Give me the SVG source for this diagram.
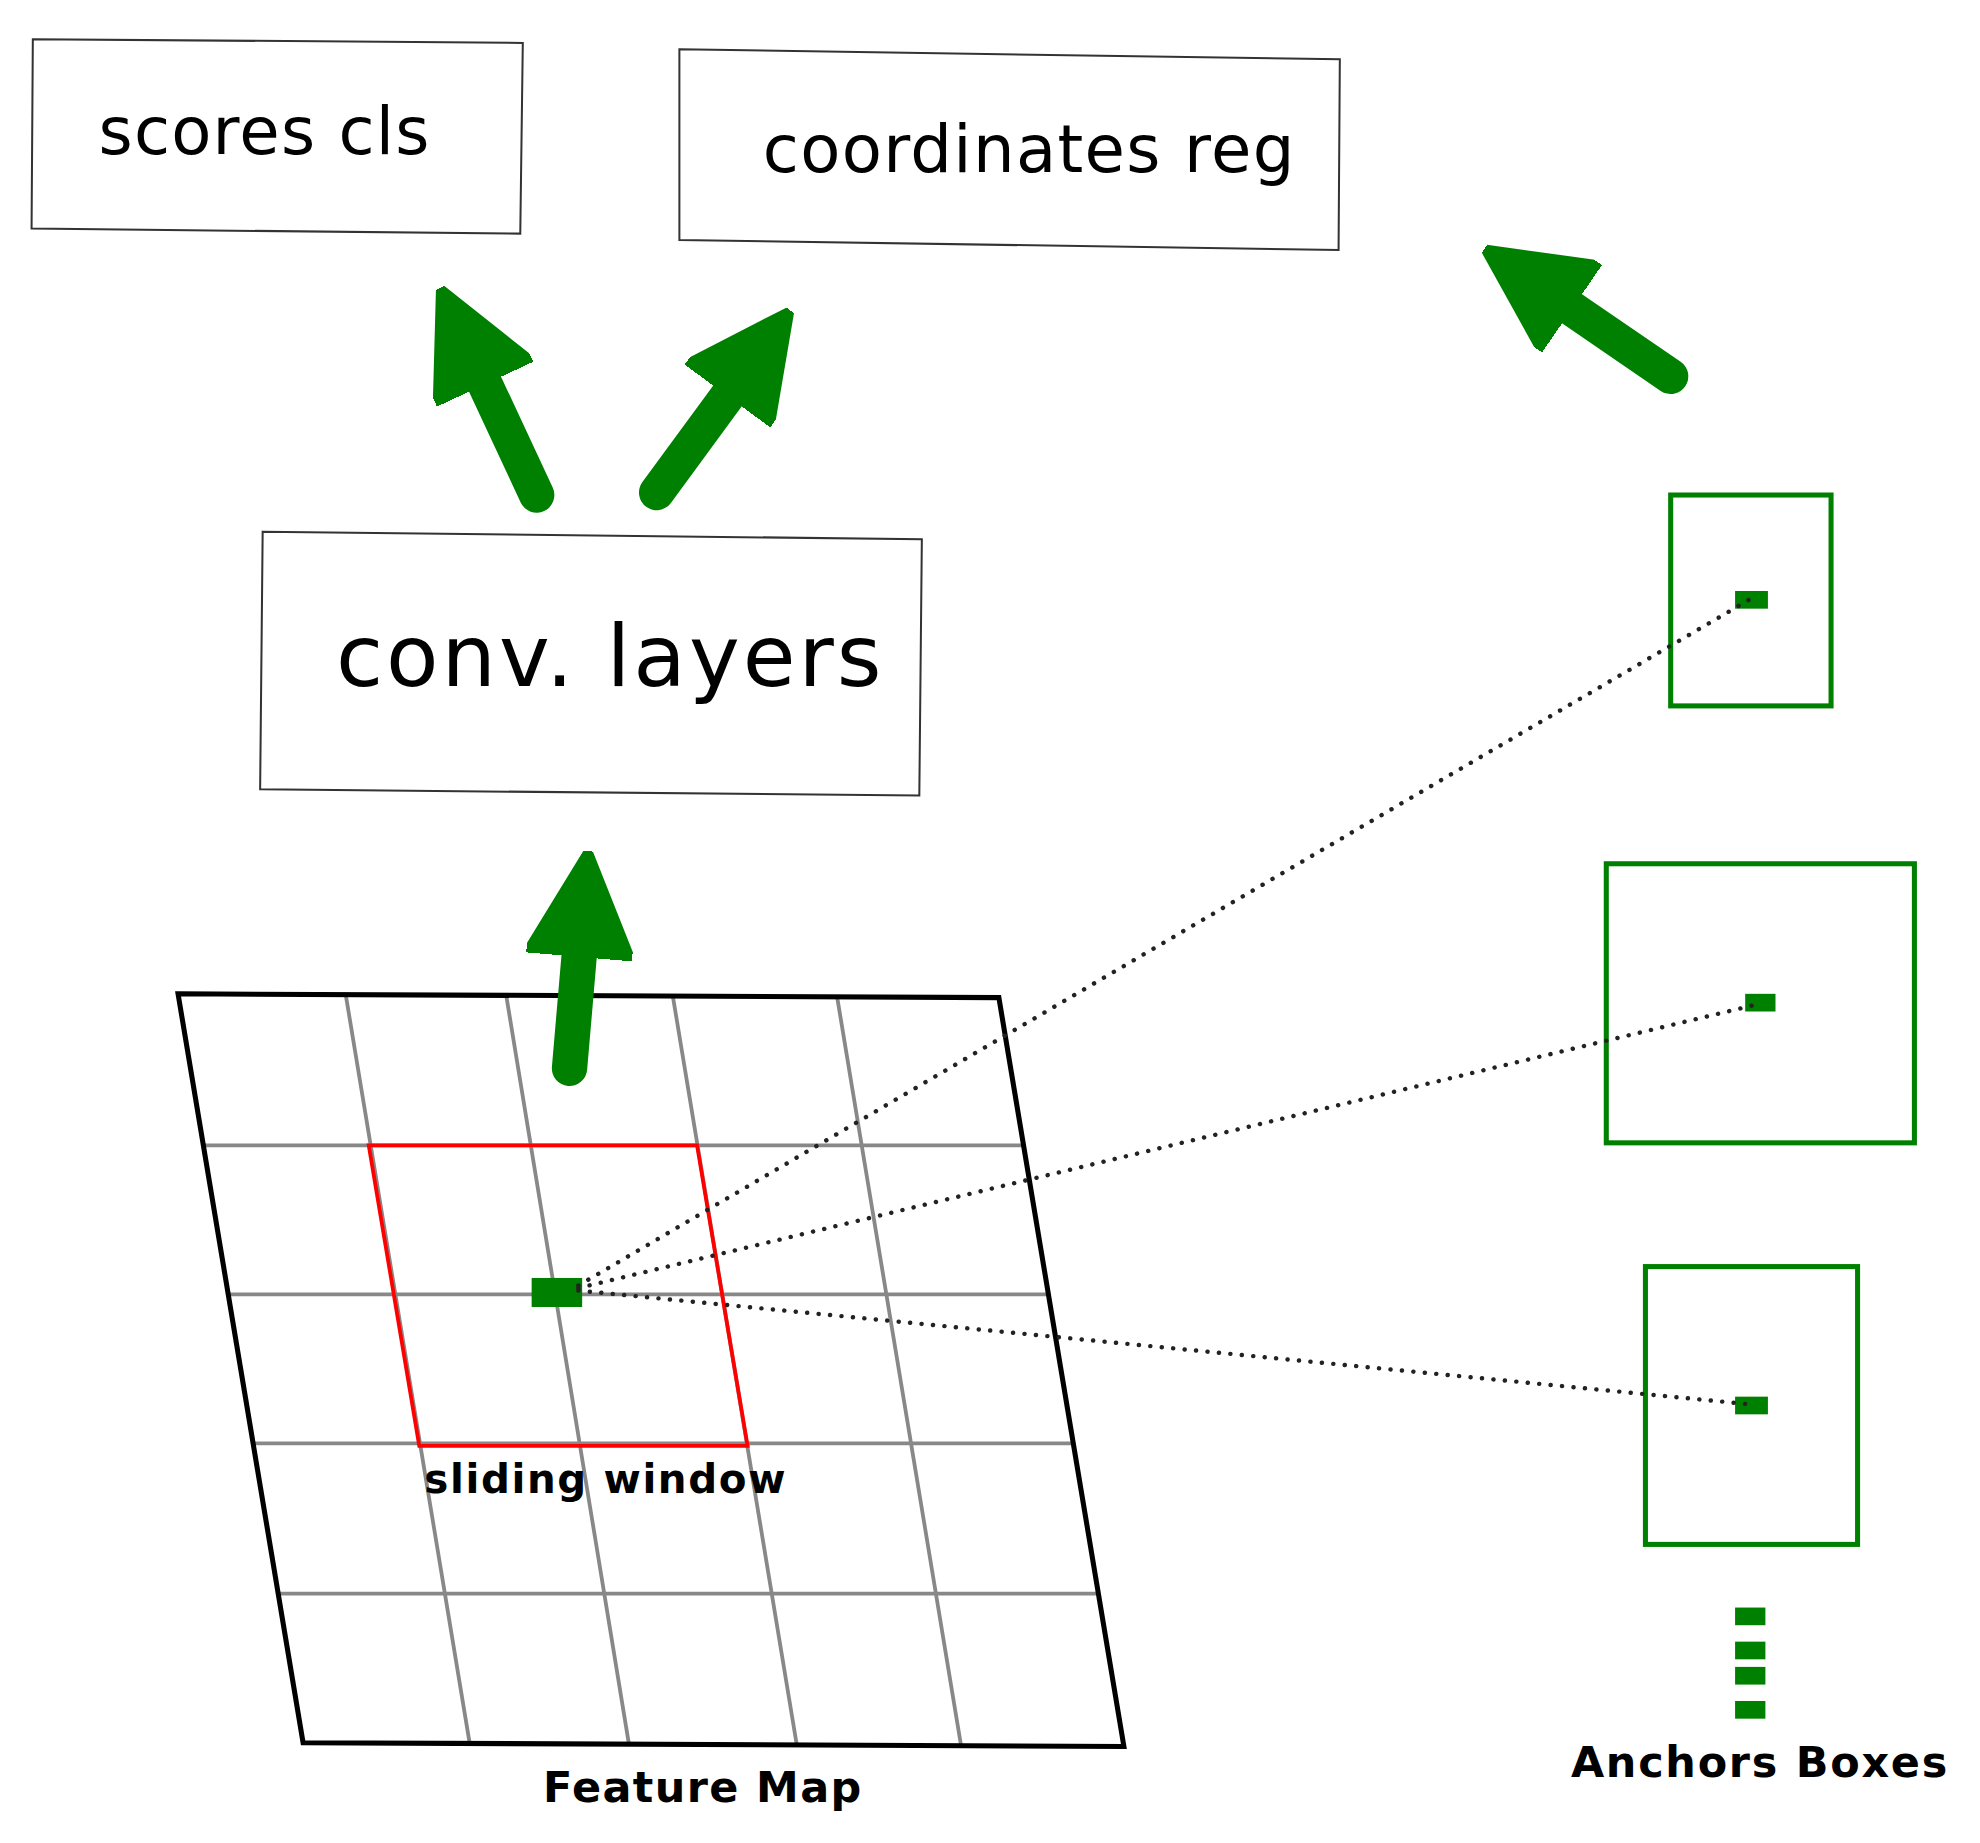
<svg xmlns="http://www.w3.org/2000/svg" width="1980" height="1843" viewBox="0 0 1980 1843">
<style>
.box{fill:#fff;stroke:#333;stroke-width:1.6}
.t{font-family:"DejaVu Sans",Verdana,sans-serif;fill:#000}
.b{font-weight:bold}
.arr{stroke:#008000;stroke-width:28;stroke-linecap:round;fill:none;marker-end:url(#ah)}
.grid{stroke:#888;stroke-width:3;fill:none}
.anc{fill:none;stroke:#008000;stroke-width:4}
.g{fill:#008000}
.dot{stroke:#222;stroke-width:3.5;stroke-dasharray:0.1 9;stroke-linecap:round;fill:none}
</style>
<defs>
<marker id="ah" viewBox="0 0 10 10" refX="2" refY="5" markerWidth="3" markerHeight="3" orient="auto" markerUnits="strokeWidth">
<path d="M0,0 L10,5 L0,10 z" fill="#008000" stroke="#008000" stroke-width="0.8" stroke-linejoin="round"/>
</marker>
</defs>
<rect width="1980" height="1843" fill="#fff"/>
<g transform="scale(1.2628)">
<g id="scores">
<polygon class="box" points="26,31 414,34 412,185 25,181"/>
<text class="t" x="78" y="122" font-size="52" textLength="262">scores cls</text>
</g>
<g id="coords">
<polygon class="box" points="538,39 1061,47 1060,198 538,190"/>
<text class="t" x="604" y="136" font-size="52" textLength="421">coordinates reg</text>
</g>
<g id="conv">
<polygon class="box" points="208,421 730,427 728,630 206,625"/>
<text class="t" x="266" y="543" font-size="68" textLength="432">conv. layers</text>
</g>
<g id="featuremap">
<polygon points="141,787 791,790 890,1383 240,1380" fill="#fff"/>
<path class="grid" d="M161,907H810M181,1025H830M200,1143H850M220,1262H870M274,789L372,1381M401,789L498,1381M533,790L631,1382M663,790L761,1382"/>
<polygon points="141,787 791,790 890,1383 240,1380" fill="none" stroke="#000" stroke-width="4"/>
<polygon points="292,907 552,907 592,1145 332,1145" fill="none" stroke="#f00" stroke-width="3"/>
<rect class="g" x="421" y="1012" width="40" height="23"/>
<text class="t b" x="336" y="1182" font-size="32" textLength="286">sliding window</text>
<text class="t b" x="430" y="1427" font-size="34" textLength="252">Feature Map</text>
</g>
<g id="anchors">
<rect class="anc" x="1323" y="392" width="127" height="167"/>
<rect class="anc" x="1272" y="684" width="244" height="221"/>
<rect class="anc" x="1303" y="1003" width="168" height="220"/>
<rect class="g" x="1374" y="468" width="26" height="14"/>
<rect class="g" x="1382" y="787" width="24" height="14"/>
<rect class="g" x="1374" y="1106" width="26" height="14"/>
<rect class="g" x="1374" y="1273" width="24" height="14"/>
<rect class="g" x="1374" y="1300" width="24" height="14"/>
<rect class="g" x="1374" y="1320" width="24" height="14"/>
<rect class="g" x="1374" y="1347" width="24" height="14"/>
<text class="t b" x="1244" y="1407" font-size="34" textLength="298">Anchors Boxes</text>
</g>
<g id="connectors">
<path class="arr" d="M425,392 L377,289"/>
<path class="arr" d="M520,390 L586,300"/>
<path class="arr" d="M1323,298 L1231,235"/>
<path class="arr" d="M451,846 L460,741"/>
<path class="dot" d="M458,1018 L1385,475"/>
<path class="dot" d="M458,1020 L1393,795"/>
<path class="dot" d="M458,1022 L1385,1112"/>
</g>
</g>
</svg>
